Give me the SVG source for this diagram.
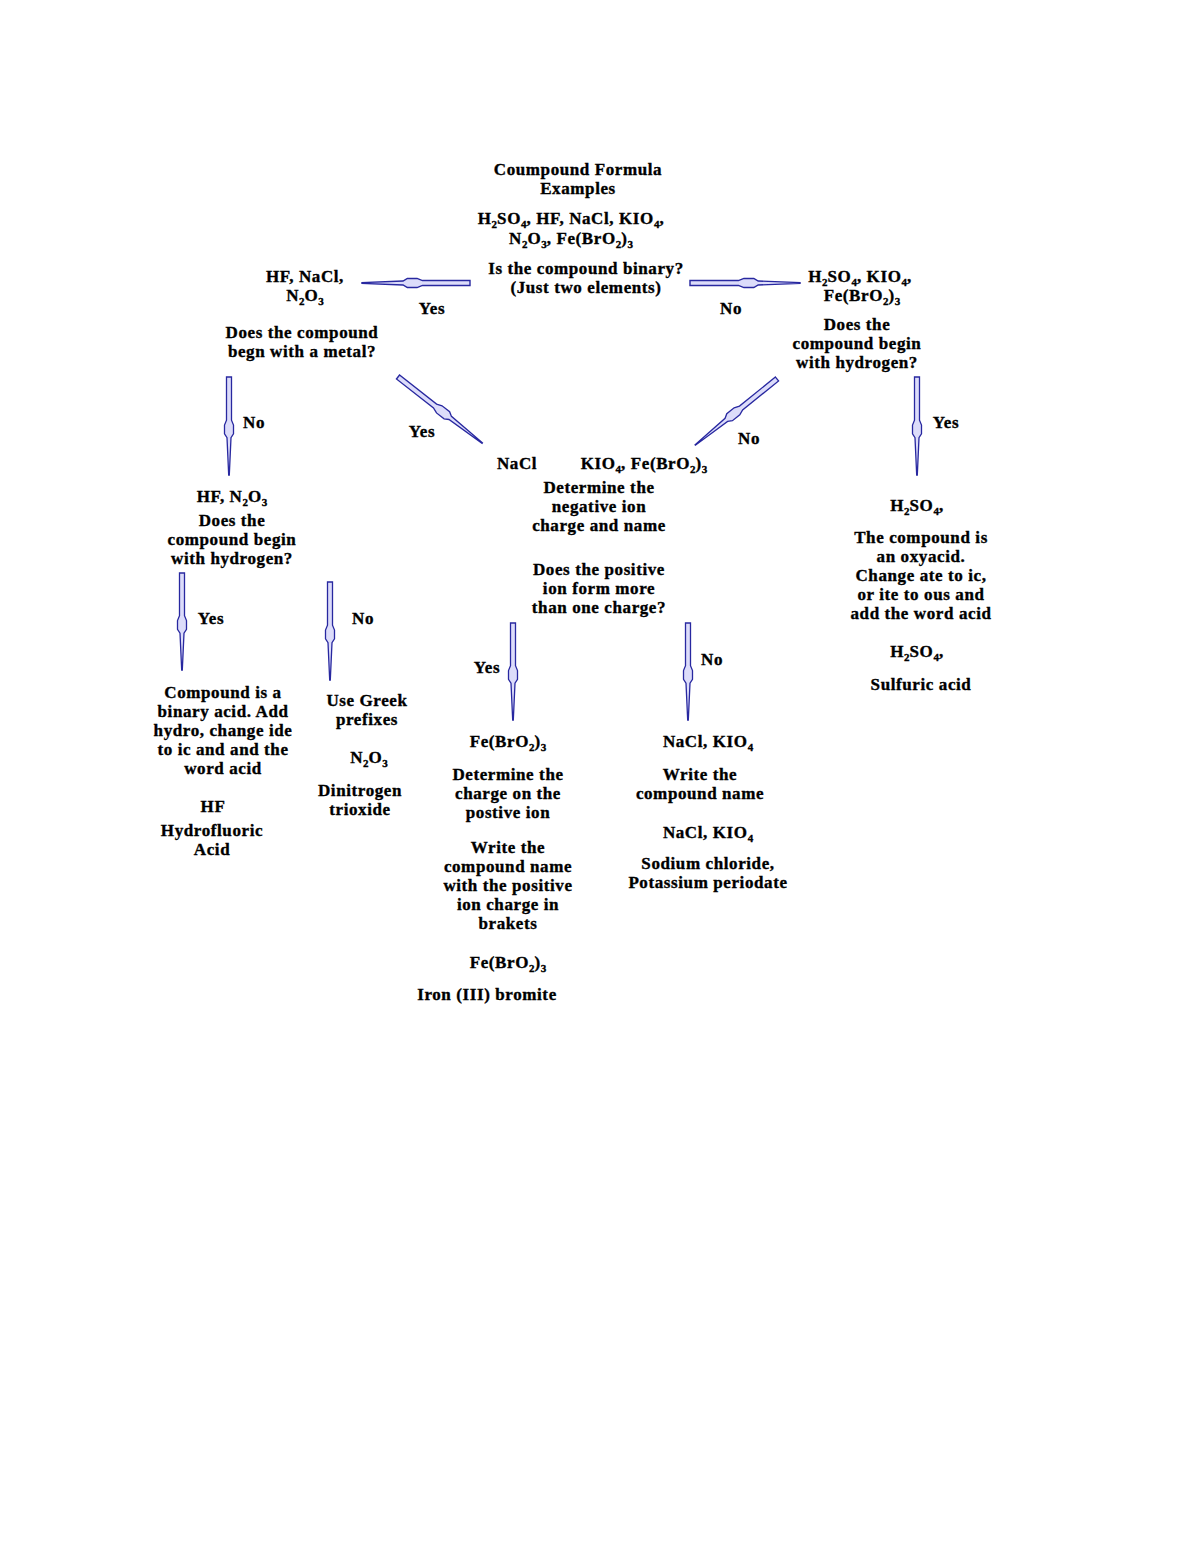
<svg xmlns="http://www.w3.org/2000/svg" width="1200" height="1553" viewBox="0 0 1200 1553">
<style>
text{font-family:"Liberation Serif","DejaVu Serif",serif;font-weight:bold;font-size:17px;letter-spacing:0.6px;fill:#000;stroke:#000;stroke-width:0.35;text-anchor:middle}
.s{font-size:11px;letter-spacing:0}
.a{fill:#dcdcfa;stroke:#2828a0;stroke-width:1.3;stroke-linejoin:miter}
</style>
<defs>
<path id="ar" class="a" d="M-2.5,0 L2.5,0 L2.5,44 L4.5,49 L4.5,58 L2,62 L0.3,100 L-0.3,100 L-2,62 L-4.5,58 L-4.5,49 L-2.5,44 Z"/>
</defs>
<rect width="1200" height="1553" fill="#fff"/>
<g id="connectors">
<use href="#ar" transform="translate(470,283) rotate(90) scale(1,1.08)"/>
<use href="#ar" transform="translate(690,283) rotate(-90) scale(1,1.1)"/>
<use href="#ar" transform="translate(229,377) scale(1,0.98)"/>
<use href="#ar" transform="translate(917,377) scale(1,0.98)"/>
<use href="#ar" transform="translate(398,377) rotate(-51.9) scale(1,1.07)"/>
<use href="#ar" transform="translate(777,379) rotate(51.1) scale(1,1.05)"/>
<use href="#ar" transform="translate(182,573) scale(1,0.97)"/>
<use href="#ar" transform="translate(330,582) scale(1,0.98)"/>
<use href="#ar" transform="translate(513,623) scale(1,0.97)"/>
<use href="#ar" transform="translate(688,623) scale(1,0.97)"/>
</g>
<g id="labels">
<text x="432" y="314">Yes</text>
<text x="731" y="314">No</text>
<text x="254" y="428">No</text>
<text x="422" y="437">Yes</text>
<text x="749" y="444">No</text>
<text x="946" y="428">Yes</text>
<text x="211" y="624">Yes</text>
<text x="363" y="624">No</text>
<text x="487" y="673">Yes</text>
<text x="712" y="665">No</text>
</g>
<g id="start">
<text x="578" y="175">Coumpound Formula</text>
<text x="578" y="194">Examples</text>
<text x="571" y="224">H<tspan class="s" dy="4">2</tspan><tspan dy="-4">SO</tspan><tspan class="s" dy="4">4</tspan><tspan dy="-4">, HF, NaCl, KIO</tspan><tspan class="s" dy="4">4</tspan><tspan dy="-4">,</tspan></text>
<text x="571" y="244">N<tspan class="s" dy="4">2</tspan><tspan dy="-4">O</tspan><tspan class="s" dy="4">3</tspan><tspan dy="-4">, Fe(BrO</tspan><tspan class="s" dy="4">2</tspan><tspan dy="-4">)</tspan><tspan class="s" dy="4">3</tspan></text>
<text x="586" y="274">Is the compound binary?</text>
<text x="586" y="293">(Just two elements)</text>
</g>
<g id="binary">
<text x="305" y="282">HF, NaCl,</text>
<text x="305" y="301">N<tspan class="s" dy="4">2</tspan><tspan dy="-4">O</tspan><tspan class="s" dy="4">3</tspan></text>
<text x="302" y="338">Does the compound</text>
<text x="302" y="357">begn with a metal?</text>
</g>
<g id="nonbinary">
<text x="860" y="282">H<tspan class="s" dy="4">2</tspan><tspan dy="-4">SO</tspan><tspan class="s" dy="4">4</tspan><tspan dy="-4">,  KIO</tspan><tspan class="s" dy="4">4</tspan><tspan dy="-4">,</tspan></text>
<text x="862" y="301">Fe(BrO<tspan class="s" dy="4">2</tspan><tspan dy="-4">)</tspan><tspan class="s" dy="4">3</tspan></text>
<text x="857" y="330">Does the</text>
<text x="857" y="349">compound begin</text>
<text x="857" y="368">with hydrogen?</text>
</g>
<g id="nonmetal">
<text x="232" y="502">HF, N<tspan class="s" dy="4">2</tspan><tspan dy="-4">O</tspan><tspan class="s" dy="4">3</tspan></text>
<text x="232" y="526">Does the</text>
<text x="232" y="545">compound begin</text>
<text x="232" y="564">with hydrogen?</text>
</g>
<g id="middle">
<text x="517" y="469">NaCl</text>
<text x="644" y="469">KIO<tspan class="s" dy="4">4</tspan><tspan dy="-4">,  Fe(BrO</tspan><tspan class="s" dy="4">2</tspan><tspan dy="-4">)</tspan><tspan class="s" dy="4">3</tspan></text>
<text x="599" y="493">Determine the</text>
<text x="599" y="512">negative ion</text>
<text x="599" y="531">charge and name</text>
<text x="599" y="575">Does the positive</text>
<text x="599" y="594">ion form more</text>
<text x="599" y="613">than one charge?</text>
</g>
<g id="oxyacid">
<text x="917" y="511">H<tspan class="s" dy="4">2</tspan><tspan dy="-4">SO</tspan><tspan class="s" dy="4">4</tspan><tspan dy="-4">,</tspan></text>
<text x="921" y="543">The compound is</text>
<text x="921" y="562">an oxyacid.</text>
<text x="921" y="581">Change ate to ic,</text>
<text x="921" y="600">or ite to ous and</text>
<text x="921" y="619">add the word acid</text>
<text x="917" y="657">H<tspan class="s" dy="4">2</tspan><tspan dy="-4">SO</tspan><tspan class="s" dy="4">4</tspan><tspan dy="-4">,</tspan></text>
<text x="921" y="690">Sulfuric acid</text>
</g>
<g id="binaryacid">
<text x="223" y="698">Compound is a</text>
<text x="223" y="717">binary acid.  Add</text>
<text x="223" y="736">hydro, change ide</text>
<text x="223" y="755">to ic and and the</text>
<text x="223" y="774">word acid</text>
<text x="213" y="812">HF</text>
<text x="212" y="836">Hydrofluoric</text>
<text x="212" y="855">Acid</text>
</g>
<g id="greek">
<text x="367" y="706">Use Greek</text>
<text x="367" y="725">prefixes</text>
<text x="369" y="763">N<tspan class="s" dy="4">2</tspan><tspan dy="-4">O</tspan><tspan class="s" dy="4">3</tspan></text>
<text x="360" y="796">Dinitrogen</text>
<text x="360" y="815">trioxide</text>
</g>
<g id="multicharge">
<text x="508" y="747">Fe(BrO<tspan class="s" dy="4">2</tspan><tspan dy="-4">)</tspan><tspan class="s" dy="4">3</tspan></text>
<text x="508" y="780">Determine the</text>
<text x="508" y="799">charge on the</text>
<text x="508" y="818">postive ion</text>
<text x="508" y="853">Write the</text>
<text x="508" y="872">compound name</text>
<text x="508" y="891">with the positive</text>
<text x="508" y="910">ion charge in</text>
<text x="508" y="929">brakets</text>
<text x="508" y="968">Fe(BrO<tspan class="s" dy="4">2</tspan><tspan dy="-4">)</tspan><tspan class="s" dy="4">3</tspan></text>
<text x="487" y="1000">Iron (III) bromite</text>
</g>
<g id="singlecharge">
<text x="708" y="747">NaCl, KIO<tspan class="s" dy="4">4</tspan></text>
<text x="700" y="780">Write the</text>
<text x="700" y="799">compound name</text>
<text x="708" y="838">NaCl, KIO<tspan class="s" dy="4">4</tspan></text>
<text x="708" y="869">Sodium chloride,</text>
<text x="708" y="888">Potassium periodate</text>
</g>
</svg>
